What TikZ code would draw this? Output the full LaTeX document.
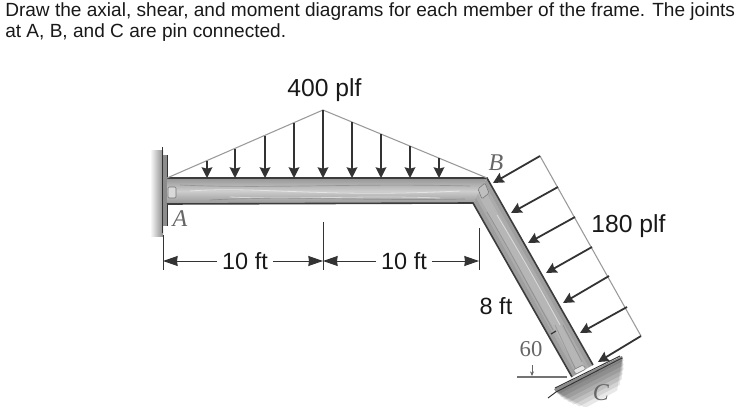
\documentclass[tikz,border=0pt]{standalone}
\usepackage{fontspec}
\setmainfont{Liberation Sans}
\newfontfamily\labelserif{Liberation Serif}
\usetikzlibrary{arrows.meta,calc}
\definecolor{ink}{HTML}{333333}
\definecolor{memberedge}{HTML}{3C3C3C}
\definecolor{woodA}{HTML}{959595}
\definecolor{woodB}{HTML}{CDCDCD}
\definecolor{loadline}{HTML}{9A9A9A}
\tikzset{
  headtext/.style={inner sep=0pt,anchor=west,font=\fontsize{14.3pt}{16pt}\selectfont,text=black!90},
  dimtext/.style={inner sep=3.5pt,font=\fontsize{17.6pt}{20pt}\selectfont,text=black!90},
  plftext/.style={inner sep=1pt,font=\fontsize{18.5pt}{20pt}\selectfont,text=black!90},
  letter/.style={inner sep=0pt,font=\labelserif\itshape\fontsize{18pt}{20pt}\selectfont,text=black!60},
  loadarrow/.style={draw=ink,line width=1.35pt,-{Stealth[length=8pt,width=8pt,inset=1pt]}},
  dimarrow/.style={draw=ink,line width=.75pt,-{Stealth[length=11pt,width=7.5pt,inset=.5pt]}},
  tick/.style={draw=ink,line width=.7pt},
  loadedge/.style={draw=loadline,line width=.8pt},
  memberline/.style={draw=memberedge,line width=1.2pt},
  grain/.style={draw=white,opacity=.5,line width=.6pt},
  grainD/.style={draw=black,opacity=.16,line width=.5pt},
  gusset/.style={draw=black!55,fill=white!85!black,line width=.4pt,rounded corners=1pt}
}
\begin{document}
\begin{tikzpicture}[x=.75pt,y=-.75pt]
\useasboundingbox (0,0) rectangle (744,407);
\fill[white] (0,0) rectangle (744,407);

\node[headtext] (h1) at (5,12) {Draw the axial, shear, and moment diagrams for each member of the frame. The joints};
\node[headtext] (h2) at (5,33) {at A, B, and C are pin connected.};

% named geometry
\coordinate (Lbeam) at (167,178);
\coordinate (Lbeamb) at (167,204);
\coordinate (B) at (487,178);
\coordinate (Bin) at (473,203);
\coordinate (Cout) at (593,365);
\coordinate (Cin) at (572,377);
\coordinate (peak) at (323,110);

% wall at A
\shade[left color=white,right color=black!45] (150,150) rectangle (163,236);
\fill[black!45] (163,155) rectangle (167,226);
\draw[ink,line width=.8pt] (162.5,147) -- (162.5,233);
\draw[ink,line width=.6pt] (167,155) -- (167,226);

% members
\shade[top color=woodA,bottom color=woodA,middle color=woodB] (Lbeam) -- (B) -- (Bin) -- (Lbeamb) -- cycle;
\fill[black!38] (B) -- (Cout) -- (Cin) -- (Bin) -- cycle;
\begin{scope}
  \clip (B) -- (Cout) -- (Cin) -- (Bin) -- cycle;
  \draw[white,opacity=.14,line width=11pt] (480,190) -- (582.5,371);
  \draw[white,opacity=.14,line width=6pt] (480,190) -- (582.5,371);
\end{scope}
\draw[grain] (190,191) .. controls (260,186) and (320,198) .. (460,191);
\draw[grain] (230,197) .. controls (300,200) and (360,195) .. (440,198);
\draw[grainD] (180,185) .. controls (270,189) and (350,183) .. (470,186);
\draw[grainD] (210,200) .. controls (280,196) and (370,201) .. (465,199);
\draw[grain] (497,215) .. controls (515,245) and (530,270) .. (560,325);
\draw[grainD] (487,212) .. controls (510,250) and (525,280) .. (553,330);
\draw[grainD] (555,325) -- (575,368);
\draw[grainD] (563,325) -- (582,362);
\draw[memberline] (Lbeamb) -- (Bin) -- (Cin);
\draw[memberline] (Lbeam) -- (B) -- (Cout);
\draw[ink,line width=.9pt] (551,334) -- (556,331);

% gussets
\draw[gusset] (168,187) rectangle (176,198);
\draw[gusset,fill=white!75!black] (478,189) -- (485,183) -- (489,193) -- (482,199) -- cycle;
\draw[gusset,fill=white!90!black] (573,370) -- (583,365) -- (586,369) -- (576,374) -- cycle;

% triangular load
\draw[loadedge] (Lbeam) -- (peak) -- (B);
\foreach \x/\t in {207/161,235/148.5,265/135.5,294/123,323/110,352/122,381/134,410/146,439/158}
  \draw[loadarrow] (\x,\t) -- (\x,178);

% parallel load on BC
\draw[loadedge] (540,156) -- (641,336);
\coordinate (q1) at (540,156);
\draw[loadarrow] (q1) -- (493,183);
\draw[loadarrow] (558,187) -- (511,213);
\draw[loadarrow] (575,217) -- (528,243);
\draw[loadarrow] (592,247) -- (546,273);
\draw[loadarrow] (609,276) -- (563,303);
\draw[loadarrow] (627,307) -- (580,333);
\draw[loadarrow] (641,336) -- (598,362);

% support at C: soft shadow built from nested translucent bands
\foreach \k/\s in {4/0,8/2,12/4,16/7,20/10,24/14,28/19}
  \fill[black,opacity=.09] (556,391) -- (622,357)
     -- ($(622,357)+(.44*\k,.9*\k)+(-.9*\s,.44*\s)$)
     -- ($(556,391)+(.44*\k,.9*\k)+(.9*\s,-.44*\s)$) -- cycle;
\fill[black!45] (554,389) -- (622,356) -- (623,359) -- (556,392) -- cycle;
\draw[ink,line width=.7pt] (548,398) -- (556,392) -- (622,358);
\draw[ink,line width=.7pt] (555,388) -- (620,356);

% dimensions
\coordinate (d0t) at (163,235); \coordinate (d0b) at (163,270);
\coordinate (d1t) at (323,222); \coordinate (d1b) at (323,270);
\coordinate (d2t) at (479,228); \coordinate (d2b) at (479,270);
\draw[tick] (d0t) -- (d0b);
\draw[tick] (d1t) -- (d1b);
\draw[tick] (d2t) -- (d2b);
\node[dimtext] (t1) at (245,261) {10 ft};
\node[dimtext] (t2) at (404,261) {10 ft};
\draw[dimarrow] (t1.west) -- (d0t |- t1.west);
\draw[dimarrow] (t1.east) -- (d1t |- t1.east);
\draw[dimarrow] (t2.west) -- (d1t |- t2.west);
\draw[dimarrow] (t2.east) -- (d2t |- t2.east);

% labels
\node[plftext] (q400) at (324.5,90) {400 plf};
\node[plftext] (q180) at (628.5,226) {180 plf};
\node[dimtext] (len) at (496,306) {8 ft};
\node[letter] (LA) at (180,219) {A};
\node[letter] (LB) at (496,163) {B};
\node[letter] (LC) at (601,393) {C};
\node[inner sep=0pt,font=\labelserif\fontsize{17pt}{19pt}\selectfont,text=black!60] (ang) at (531,349) {60};
\coordinate (a0) at (517,377);
\coordinate (a1) at (567,377);
\draw[draw=black!55,line width=.8pt] (a0) -- (a1);
\draw[draw=black!60,line width=.5pt,-{Stealth[length=3.5pt,width=3pt]}] (532,365) -- (532,376);
\end{tikzpicture}
\end{document}
